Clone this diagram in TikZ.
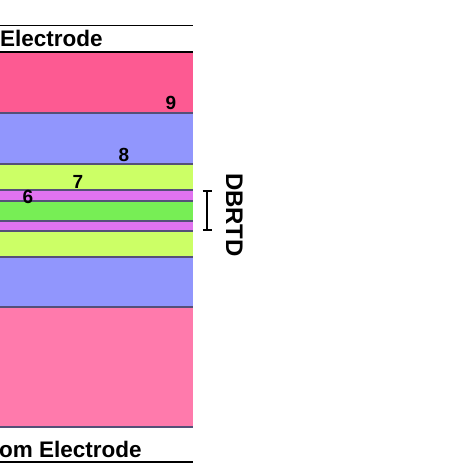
\documentclass[tikz,border=0pt]{standalone}
\usepackage{fontspec}
\setmainfont{Liberation Sans}
\usetikzlibrary{arrows.meta}
\definecolor{pinktop}{RGB}{253,90,146}
\definecolor{pinkbot}{RGB}{255,122,172}
\definecolor{barrier}{RGB}{145,150,253}
\definecolor{limelayer}{RGB}{204,255,102}
\definecolor{welllayer}{RGB}{119,238,85}
\definecolor{magentalayer}{RGB}{224,115,240}
\definecolor{edge}{RGB}{85,80,120}
\tikzset{
  num/.style={font=\fontsize{19}{19}\selectfont\bfseries,inner sep=0pt},
  elec/.style={font=\fontsize{22.5}{22.5}\selectfont\bfseries,inner sep=0pt}
}
\begin{document}
\begin{tikzpicture}[x=1pt,y=-1pt]
\useasboundingbox (0,0) rectangle (474,474);
\fill[pinktop] (0,52) rectangle (193,113);
\fill[barrier] (0,113) rectangle (193,164);
\fill[limelayer] (0,164) rectangle (193,190);
\fill[magentalayer] (0,190) rectangle (193,201);
\fill[welllayer] (0,201) rectangle (193,221);
\fill[magentalayer] (0,221) rectangle (193,231);
\fill[limelayer] (0,231) rectangle (193,257);
\fill[barrier] (0,257) rectangle (193,307);
\fill[pinkbot] (0,307) rectangle (193,427);
\foreach \yy in {113,164,190,201,221,231,257,307,427}
  \draw[edge,line width=1.2pt] (0,\yy)--(193,\yy);
\draw[line width=1.5pt] (0,25.5)--(193,25.5);
\draw[line width=1.8pt] (0,52)--(193,52);
\draw[line width=1.8pt] (0,462)--(193,462);
\node[elec,anchor=base west] (top) at (0,46) {Electrode};
\node[elec,anchor=base west] (bot) at (-1,457) {om Electrode};
\node[num] (n9) at (171,103) {9};
\node[num] (n8) at (124,155) {8};
\node[num] (n7) at (78,182) {7};
\node[num] (n6) at (28,197) {6};
\coordinate (dbtop) at (207,190);
\coordinate (dbbot) at (207,231);
\draw[line width=1.6pt,{Bar[width=9pt]}-{Bar[width=9pt]}] (dbtop)--(dbbot);
\node[font=\fontsize{24}{24}\selectfont\bfseries,rotate=-90,inner sep=0pt] (dbrtd) at (234.5,215) {DBRTD};
\end{tikzpicture}
\end{document}
